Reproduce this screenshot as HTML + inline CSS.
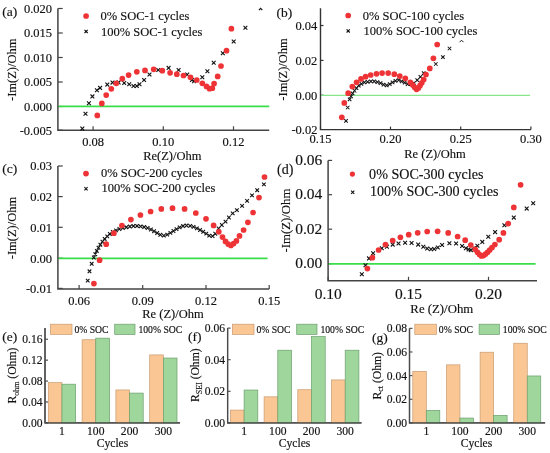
<!DOCTYPE html>
<html><head><meta charset="utf-8"><style>
html,body{margin:0;padding:0;background:#fff;width:550px;height:453px;overflow:hidden}
svg{display:block;will-change:transform}
text{font-family:"Liberation Serif", serif;stroke:#111;stroke-width:0.15px}
</style></head><body>
<svg width="550" height="453" viewBox="0 0 550 453">
<rect width="550" height="453" fill="#fff"/>
<path d="M57.90 8.50L57.90 130.30L269.20 130.30" stroke="#444" stroke-width="1.5" fill="none"/>
<line x1="57.90" y1="8.50" x2="62.70" y2="8.50" stroke="#444" stroke-width="1.2"/>
<text x="52.00" y="12.80" font-size="12.5" text-anchor="end" fill="#111" >0.020</text>
<line x1="57.90" y1="33.00" x2="62.70" y2="33.00" stroke="#444" stroke-width="1.2"/>
<text x="52.00" y="37.30" font-size="12.5" text-anchor="end" fill="#111" >0.015</text>
<line x1="57.90" y1="57.50" x2="62.70" y2="57.50" stroke="#444" stroke-width="1.2"/>
<text x="52.00" y="61.80" font-size="12.5" text-anchor="end" fill="#111" >0.010</text>
<line x1="57.90" y1="82.00" x2="62.70" y2="82.00" stroke="#444" stroke-width="1.2"/>
<text x="52.00" y="86.30" font-size="12.5" text-anchor="end" fill="#111" >0.005</text>
<line x1="57.90" y1="106.50" x2="62.70" y2="106.50" stroke="#444" stroke-width="1.2"/>
<text x="52.00" y="110.80" font-size="12.5" text-anchor="end" fill="#111" >0.000</text>
<line x1="57.90" y1="130.20" x2="62.70" y2="130.20" stroke="#444" stroke-width="1.2"/>
<text x="52.00" y="134.50" font-size="12.5" text-anchor="end" fill="#111" >-0.005</text>
<line x1="93.10" y1="130.30" x2="93.10" y2="126.30" stroke="#444" stroke-width="1.2"/>
<text x="93.10" y="146.00" font-size="12.5" text-anchor="middle" fill="#111" >0.08</text>
<line x1="163.30" y1="130.30" x2="163.30" y2="126.30" stroke="#444" stroke-width="1.2"/>
<text x="163.30" y="146.00" font-size="12.5" text-anchor="middle" fill="#111" >0.10</text>
<line x1="233.50" y1="130.30" x2="233.50" y2="126.30" stroke="#444" stroke-width="1.2"/>
<text x="233.50" y="146.00" font-size="12.5" text-anchor="middle" fill="#111" >0.12</text>
<text x="172.30" y="160.30" font-size="12.5" text-anchor="middle" fill="#111" >Re(Z)/Ohm</text>
<text x="0" y="0" font-size="12.5" text-anchor="middle" fill="#111" transform="translate(15.50,69.80) rotate(-90)">-Im(Z)/Ohm</text>
<text x="2.30" y="16.30" font-size="13.5" text-anchor="start" fill="#111" >(a)</text>
<line x1="58.70" y1="106.40" x2="269.20" y2="106.40" stroke="#3ade4a" stroke-width="1.8"/>
<circle cx="86.10" cy="16.00" r="2.85" fill="#ee3336"/>
<path d="M84.50 29.80L87.70 33.00M87.70 29.80L84.50 33.00" stroke="#111" stroke-width="1.1" fill="none"/>
<text x="100.50" y="20.20" font-size="12.5" text-anchor="start" fill="#111" >0% SOC-1 cycles</text>
<text x="101.00" y="35.60" font-size="12.5" text-anchor="start" fill="#111" >100% SOC-1 cycles</text>
<path d="M80.40 126.70L84.20 130.50M84.20 126.70L80.40 130.50" stroke="#111" stroke-width="1.1" fill="none"/>
<path d="M83.60 111.80L87.40 115.60M87.40 111.80L83.60 115.60" stroke="#111" stroke-width="1.1" fill="none"/>
<path d="M87.00 101.40L90.80 105.20M90.80 101.40L87.00 105.20" stroke="#111" stroke-width="1.1" fill="none"/>
<path d="M90.50 94.50L94.30 98.30M94.30 94.50L90.50 98.30" stroke="#111" stroke-width="1.1" fill="none"/>
<path d="M95.00 88.40L98.80 92.20M98.80 88.40L95.00 92.20" stroke="#111" stroke-width="1.1" fill="none"/>
<path d="M98.20 86.00L102.00 89.80M102.00 86.00L98.20 89.80" stroke="#111" stroke-width="1.1" fill="none"/>
<path d="M105.40 82.70L109.20 86.50M109.20 82.70L105.40 86.50" stroke="#111" stroke-width="1.1" fill="none"/>
<path d="M110.60 80.70L114.40 84.50M114.40 80.70L110.60 84.50" stroke="#111" stroke-width="1.1" fill="none"/>
<path d="M116.70 80.50L120.50 84.30M120.50 80.50L116.70 84.30" stroke="#111" stroke-width="1.1" fill="none"/>
<path d="M122.30 81.10L126.10 84.90M126.10 81.10L122.30 84.90" stroke="#111" stroke-width="1.1" fill="none"/>
<path d="M127.30 82.30L131.10 86.10M131.10 82.30L127.30 86.10" stroke="#111" stroke-width="1.1" fill="none"/>
<path d="M131.60 84.10L135.40 87.90M135.40 84.10L131.60 87.90" stroke="#111" stroke-width="1.1" fill="none"/>
<path d="M134.90 84.10L138.70 87.90M138.70 84.10L134.90 87.90" stroke="#111" stroke-width="1.1" fill="none"/>
<path d="M137.60 82.30L141.40 86.10M141.40 82.30L137.60 86.10" stroke="#111" stroke-width="1.1" fill="none"/>
<path d="M142.20 78.10L146.00 81.90M146.00 78.10L142.20 81.90" stroke="#111" stroke-width="1.1" fill="none"/>
<path d="M147.60 72.60L151.40 76.40M151.40 72.60L147.60 76.40" stroke="#111" stroke-width="1.1" fill="none"/>
<path d="M156.40 68.10L160.20 71.90M160.20 68.10L156.40 71.90" stroke="#111" stroke-width="1.1" fill="none"/>
<path d="M166.70 66.00L170.50 69.80M170.50 66.00L166.70 69.80" stroke="#111" stroke-width="1.1" fill="none"/>
<path d="M176.70 68.10L180.50 71.90M180.50 68.10L176.70 71.90" stroke="#111" stroke-width="1.1" fill="none"/>
<path d="M185.30 72.60L189.10 76.40M189.10 72.60L185.30 76.40" stroke="#111" stroke-width="1.1" fill="none"/>
<path d="M190.00 78.10L193.80 81.90M193.80 78.10L190.00 81.90" stroke="#111" stroke-width="1.1" fill="none"/>
<path d="M192.20 79.40L196.00 83.20M196.00 79.40L192.20 83.20" stroke="#111" stroke-width="1.1" fill="none"/>
<path d="M200.40 75.40L204.20 79.20M204.20 75.40L200.40 79.20" stroke="#111" stroke-width="1.1" fill="none"/>
<path d="M205.50 69.40L209.30 73.20M209.30 69.40L205.50 73.20" stroke="#111" stroke-width="1.1" fill="none"/>
<path d="M211.80 60.80L215.60 64.60M215.60 60.80L211.80 64.60" stroke="#111" stroke-width="1.1" fill="none"/>
<path d="M220.90 51.40L224.70 55.20M224.70 51.40L220.90 55.20" stroke="#111" stroke-width="1.1" fill="none"/>
<path d="M231.80 39.60L235.60 43.40M235.60 39.60L231.80 43.40" stroke="#111" stroke-width="1.1" fill="none"/>
<path d="M243.50 25.90L247.30 29.70M247.30 25.90L243.50 29.70" stroke="#111" stroke-width="1.1" fill="none"/>
<circle cx="97.30" cy="115.40" r="2.85" fill="#ee3336"/>
<circle cx="101.80" cy="103.40" r="2.85" fill="#ee3336"/>
<circle cx="106.20" cy="95.10" r="2.85" fill="#ee3336"/>
<circle cx="111.30" cy="88.80" r="2.85" fill="#ee3336"/>
<circle cx="116.30" cy="83.30" r="2.85" fill="#ee3336"/>
<circle cx="122.30" cy="78.70" r="2.85" fill="#ee3336"/>
<circle cx="128.60" cy="75.10" r="2.85" fill="#ee3336"/>
<circle cx="136.80" cy="71.80" r="2.85" fill="#ee3336"/>
<circle cx="145.00" cy="70.40" r="2.85" fill="#ee3336"/>
<circle cx="153.70" cy="69.30" r="2.85" fill="#ee3336"/>
<circle cx="162.30" cy="70.70" r="2.85" fill="#ee3336"/>
<circle cx="170.10" cy="72.80" r="2.85" fill="#ee3336"/>
<circle cx="176.80" cy="74.20" r="2.85" fill="#ee3336"/>
<circle cx="183.50" cy="75.50" r="2.85" fill="#ee3336"/>
<circle cx="190.50" cy="77.30" r="2.85" fill="#ee3336"/>
<circle cx="196.80" cy="80.00" r="2.85" fill="#ee3336"/>
<circle cx="202.30" cy="83.30" r="2.85" fill="#ee3336"/>
<circle cx="206.50" cy="86.40" r="2.85" fill="#ee3336"/>
<circle cx="209.50" cy="88.70" r="2.85" fill="#ee3336"/>
<circle cx="212.30" cy="88.20" r="2.85" fill="#ee3336"/>
<circle cx="214.10" cy="83.60" r="2.85" fill="#ee3336"/>
<circle cx="217.70" cy="76.40" r="2.85" fill="#ee3336"/>
<circle cx="221.00" cy="66.00" r="2.85" fill="#ee3336"/>
<circle cx="226.50" cy="50.70" r="2.85" fill="#ee3336"/>
<circle cx="231.40" cy="28.70" r="2.85" fill="#ee3336"/>
<path d="M258.90 10.10L260.60 8.40L262.30 10.10" stroke="#111" stroke-width="1.2" fill="none"/>
<path d="M320.50 8.20L320.50 129.60L530.90 129.60" stroke="#333" stroke-width="1.4" fill="none"/>
<line x1="320.50" y1="25.50" x2="323.50" y2="25.50" stroke="#333" stroke-width="1.2"/>
<text x="317.30" y="29.80" font-size="12.5" text-anchor="end" fill="#111" >0.04</text>
<line x1="320.50" y1="60.40" x2="323.50" y2="60.40" stroke="#333" stroke-width="1.2"/>
<text x="317.30" y="64.70" font-size="12.5" text-anchor="end" fill="#111" >0.02</text>
<line x1="320.50" y1="95.20" x2="323.50" y2="95.20" stroke="#333" stroke-width="1.2"/>
<text x="317.30" y="99.50" font-size="12.5" text-anchor="end" fill="#111" >0.00</text>
<text x="317.50" y="134.20" font-size="12.5" text-anchor="end" fill="#111" >-0.02</text>
<line x1="320.50" y1="129.60" x2="320.50" y2="126.60" stroke="#333" stroke-width="1.2"/>
<text x="320.50" y="143.20" font-size="12.5" text-anchor="middle" fill="#111" >0.15</text>
<line x1="390.50" y1="129.60" x2="390.50" y2="126.60" stroke="#333" stroke-width="1.2"/>
<text x="390.50" y="143.20" font-size="12.5" text-anchor="middle" fill="#111" >0.20</text>
<line x1="460.70" y1="129.60" x2="460.70" y2="126.60" stroke="#333" stroke-width="1.2"/>
<text x="460.70" y="143.20" font-size="12.5" text-anchor="middle" fill="#111" >0.25</text>
<line x1="530.90" y1="129.60" x2="530.90" y2="126.60" stroke="#333" stroke-width="1.2"/>
<text x="530.90" y="143.20" font-size="12.5" text-anchor="middle" fill="#111" >0.30</text>
<text x="435.00" y="158.40" font-size="12.5" text-anchor="middle" fill="#111" >Re (Z)/Ohm</text>
<text x="0" y="0" font-size="12.5" text-anchor="middle" fill="#111" transform="translate(287.20,69.40) rotate(-90)">-Im(Z)/Ohm</text>
<text x="276.50" y="17.00" font-size="13.5" text-anchor="start" fill="#111" >(b)</text>
<line x1="321.20" y1="95.40" x2="530.00" y2="95.40" stroke="#86e68a" stroke-width="1.3"/>
<circle cx="348.20" cy="15.50" r="2.85" fill="#ee3336"/>
<path d="M346.60 29.30L349.80 32.50M349.80 29.30L346.60 32.50" stroke="#111" stroke-width="1.1" fill="none"/>
<text x="362.70" y="19.60" font-size="12.5" text-anchor="start" fill="#111" >0% SOC-100 cycles</text>
<text x="363.60" y="34.90" font-size="12.5" text-anchor="start" fill="#111" >100% SOC-100 cycles</text>
<path d="M344.25 119.15L347.75 122.65M347.75 119.15L344.25 122.65" stroke="#111" stroke-width="1.05" fill="none"/>
<path d="M345.95 105.75L349.45 109.25M349.45 105.75L345.95 109.25" stroke="#111" stroke-width="1.05" fill="none"/>
<path d="M347.85 97.55L351.35 101.05M351.35 97.55L347.85 101.05" stroke="#111" stroke-width="1.05" fill="none"/>
<path d="M349.26 94.56L352.76 98.06M352.76 94.56L349.26 98.06" stroke="#111" stroke-width="1.05" fill="none"/>
<path d="M350.83 91.67L354.33 95.17M354.33 91.67L350.83 95.17" stroke="#111" stroke-width="1.05" fill="none"/>
<path d="M352.77 89.00L356.27 92.50M356.27 89.00L352.77 92.50" stroke="#111" stroke-width="1.05" fill="none"/>
<path d="M354.73 86.34L358.23 89.84M358.23 86.34L354.73 89.84" stroke="#111" stroke-width="1.05" fill="none"/>
<path d="M356.99 83.94L360.49 87.44M360.49 83.94L356.99 87.44" stroke="#111" stroke-width="1.05" fill="none"/>
<path d="M359.67 82.02L363.17 85.52M363.17 82.02L359.67 85.52" stroke="#111" stroke-width="1.05" fill="none"/>
<path d="M362.64 80.62L366.14 84.12M366.14 80.62L362.64 84.12" stroke="#111" stroke-width="1.05" fill="none"/>
<path d="M365.88 80.01L369.38 83.51M369.38 80.01L365.88 83.51" stroke="#111" stroke-width="1.05" fill="none"/>
<path d="M369.16 79.61L372.66 83.11M372.66 79.61L369.16 83.11" stroke="#111" stroke-width="1.05" fill="none"/>
<path d="M372.45 79.65L375.95 83.15M375.95 79.65L372.45 83.15" stroke="#111" stroke-width="1.05" fill="none"/>
<path d="M375.68 80.30L379.18 83.80M379.18 80.30L375.68 83.80" stroke="#111" stroke-width="1.05" fill="none"/>
<path d="M378.78 81.43L382.28 84.93M382.28 81.43L378.78 84.93" stroke="#111" stroke-width="1.05" fill="none"/>
<path d="M381.80 82.76L385.30 86.26M385.30 82.76L381.80 86.26" stroke="#111" stroke-width="1.05" fill="none"/>
<path d="M384.93 83.63L388.43 87.13M388.43 83.63L384.93 87.13" stroke="#111" stroke-width="1.05" fill="none"/>
<path d="M387.99 82.43L391.49 85.93M391.49 82.43L387.99 85.93" stroke="#111" stroke-width="1.05" fill="none"/>
<path d="M390.80 80.70L394.30 84.20M394.30 80.70L390.80 84.20" stroke="#111" stroke-width="1.05" fill="none"/>
<path d="M393.71 79.17L397.21 82.67M397.21 79.17L393.71 82.67" stroke="#111" stroke-width="1.05" fill="none"/>
<path d="M396.92 78.46L400.42 81.96M400.42 78.46L396.92 81.96" stroke="#111" stroke-width="1.05" fill="none"/>
<path d="M399.90 79.59L403.40 83.09M403.40 79.59L399.90 83.09" stroke="#111" stroke-width="1.05" fill="none"/>
<path d="M402.91 80.92L406.41 84.42M406.41 80.92L402.91 84.42" stroke="#111" stroke-width="1.05" fill="none"/>
<path d="M405.84 82.42L409.34 85.92M409.34 82.42L405.84 85.92" stroke="#111" stroke-width="1.05" fill="none"/>
<path d="M409.04 82.46L412.54 85.96M412.54 82.46L409.04 85.96" stroke="#111" stroke-width="1.05" fill="none"/>
<path d="M412.15 81.36L415.65 84.86M415.65 81.36L412.15 84.86" stroke="#111" stroke-width="1.05" fill="none"/>
<path d="M415.45 78.45L418.95 81.95M418.95 78.45L415.45 81.95" stroke="#111" stroke-width="1.05" fill="none"/>
<path d="M418.65 75.15L422.15 78.65M422.15 75.15L418.65 78.65" stroke="#111" stroke-width="1.05" fill="none"/>
<path d="M421.95 71.35L425.45 74.85M425.45 71.35L421.95 74.85" stroke="#111" stroke-width="1.05" fill="none"/>
<path d="M434.05 62.25L437.55 65.75M437.55 62.25L434.05 65.75" stroke="#111" stroke-width="1.05" fill="none"/>
<path d="M441.15 55.45L444.65 58.95M444.65 55.45L441.15 58.95" stroke="#111" stroke-width="1.05" fill="none"/>
<path d="M447.75 46.75L451.25 50.25M451.25 46.75L447.75 50.25" stroke="#111" stroke-width="1.05" fill="none"/>
<circle cx="341.80" cy="117.30" r="2.85" fill="#ee3336"/>
<circle cx="344.30" cy="102.90" r="2.85" fill="#ee3336"/>
<circle cx="348.20" cy="93.20" r="2.85" fill="#ee3336"/>
<circle cx="352.30" cy="86.60" r="2.85" fill="#ee3336"/>
<circle cx="356.60" cy="82.30" r="2.85" fill="#ee3336"/>
<circle cx="361.00" cy="78.90" r="2.85" fill="#ee3336"/>
<circle cx="365.60" cy="76.70" r="2.85" fill="#ee3336"/>
<circle cx="370.70" cy="75.00" r="2.85" fill="#ee3336"/>
<circle cx="376.50" cy="73.80" r="2.85" fill="#ee3336"/>
<circle cx="382.10" cy="73.10" r="2.85" fill="#ee3336"/>
<circle cx="388.20" cy="73.10" r="2.85" fill="#ee3336"/>
<circle cx="394.30" cy="74.20" r="2.85" fill="#ee3336"/>
<circle cx="399.80" cy="76.10" r="2.85" fill="#ee3336"/>
<circle cx="405.30" cy="78.30" r="2.85" fill="#ee3336"/>
<circle cx="410.30" cy="82.30" r="2.85" fill="#ee3336"/>
<circle cx="412.80" cy="85.00" r="2.85" fill="#ee3336"/>
<circle cx="414.80" cy="87.60" r="2.85" fill="#ee3336"/>
<circle cx="416.60" cy="89.30" r="2.85" fill="#ee3336"/>
<circle cx="418.40" cy="87.90" r="2.85" fill="#ee3336"/>
<circle cx="420.10" cy="85.40" r="2.85" fill="#ee3336"/>
<circle cx="421.80" cy="82.80" r="2.85" fill="#ee3336"/>
<circle cx="423.70" cy="79.60" r="2.85" fill="#ee3336"/>
<circle cx="426.00" cy="74.50" r="2.85" fill="#ee3336"/>
<circle cx="429.80" cy="68.40" r="2.85" fill="#ee3336"/>
<circle cx="433.40" cy="58.30" r="2.85" fill="#ee3336"/>
<circle cx="437.20" cy="44.50" r="2.85" fill="#ee3336"/>
<path d="M459.50 42.20L461.50 40.20L463.50 42.20" stroke="#111" stroke-width="0.95" fill="none"/>
<path d="M57.90 166.00L57.90 288.90L269.20 288.90" stroke="#444" stroke-width="1.5" fill="none"/>
<line x1="57.90" y1="166.00" x2="62.70" y2="166.00" stroke="#444" stroke-width="1.2"/>
<text x="52.00" y="170.30" font-size="12.5" text-anchor="end" fill="#111" >0.03</text>
<line x1="57.90" y1="196.60" x2="62.70" y2="196.60" stroke="#444" stroke-width="1.2"/>
<text x="52.00" y="200.90" font-size="12.5" text-anchor="end" fill="#111" >0.02</text>
<line x1="57.90" y1="227.30" x2="62.70" y2="227.30" stroke="#444" stroke-width="1.2"/>
<text x="52.00" y="231.60" font-size="12.5" text-anchor="end" fill="#111" >0.01</text>
<line x1="57.90" y1="258.20" x2="62.70" y2="258.20" stroke="#444" stroke-width="1.2"/>
<text x="52.00" y="262.50" font-size="12.5" text-anchor="end" fill="#111" >0.00</text>
<line x1="57.90" y1="288.40" x2="62.70" y2="288.40" stroke="#444" stroke-width="1.2"/>
<text x="52.00" y="292.70" font-size="12.5" text-anchor="end" fill="#111" >-0.01</text>
<line x1="79.10" y1="288.90" x2="79.10" y2="284.90" stroke="#444" stroke-width="1.2"/>
<text x="79.10" y="305.00" font-size="12.5" text-anchor="middle" fill="#111" >0.06</text>
<line x1="142.70" y1="288.90" x2="142.70" y2="284.90" stroke="#444" stroke-width="1.2"/>
<text x="142.70" y="305.00" font-size="12.5" text-anchor="middle" fill="#111" >0.09</text>
<line x1="206.00" y1="288.90" x2="206.00" y2="284.90" stroke="#444" stroke-width="1.2"/>
<text x="206.00" y="305.00" font-size="12.5" text-anchor="middle" fill="#111" >0.12</text>
<line x1="269.20" y1="288.90" x2="269.20" y2="284.90" stroke="#444" stroke-width="1.2"/>
<text x="269.20" y="305.00" font-size="12.5" text-anchor="middle" fill="#111" >0.15</text>
<text x="173.00" y="318.20" font-size="12.5" text-anchor="middle" fill="#111" >Re (Z)/Ohm</text>
<text x="0" y="0" font-size="12.5" text-anchor="middle" fill="#111" transform="translate(15.50,228.00) rotate(-90)">-Im(Z)/Ohm</text>
<text x="2.30" y="173.20" font-size="13.5" text-anchor="start" fill="#111" >(c)</text>
<line x1="58.70" y1="258.30" x2="267.60" y2="258.30" stroke="#3ade4a" stroke-width="1.8"/>
<circle cx="86.00" cy="173.60" r="2.85" fill="#ee3336"/>
<path d="M84.40 187.10L87.60 190.30M87.60 187.10L84.40 190.30" stroke="#111" stroke-width="1.1" fill="none"/>
<text x="100.90" y="176.90" font-size="12.5" text-anchor="start" fill="#111" >0% SOC-200 cycles</text>
<text x="101.50" y="192.20" font-size="12.5" text-anchor="start" fill="#111" >100% SOC-200 cycles</text>
<path d="M85.90 278.80L89.50 282.40M89.50 278.80L85.90 282.40" stroke="#111" stroke-width="1.1" fill="none"/>
<path d="M87.70 269.50L91.30 273.10M91.30 269.50L87.70 273.10" stroke="#111" stroke-width="1.1" fill="none"/>
<path d="M89.90 262.00L93.50 265.60M93.50 262.00L89.90 265.60" stroke="#111" stroke-width="1.1" fill="none"/>
<path d="M92.00 255.70L95.60 259.30M95.60 255.70L92.00 259.30" stroke="#111" stroke-width="1.1" fill="none"/>
<path d="M93.46 252.41L97.06 256.01M97.06 252.41L93.46 256.01" stroke="#111" stroke-width="1.1" fill="none"/>
<path d="M95.00 249.16L98.60 252.76M98.60 249.16L95.00 252.76" stroke="#111" stroke-width="1.1" fill="none"/>
<path d="M96.69 245.98L100.29 249.58M100.29 245.98L96.69 249.58" stroke="#111" stroke-width="1.1" fill="none"/>
<path d="M98.56 242.90L102.16 246.50M102.16 242.90L98.56 246.50" stroke="#111" stroke-width="1.1" fill="none"/>
<path d="M100.62 239.95L104.22 243.55M104.22 239.95L100.62 243.55" stroke="#111" stroke-width="1.1" fill="none"/>
<path d="M102.89 237.15L106.49 240.75M106.49 237.15L102.89 240.75" stroke="#111" stroke-width="1.1" fill="none"/>
<path d="M105.44 234.61L109.04 238.21M109.04 234.61L105.44 238.21" stroke="#111" stroke-width="1.1" fill="none"/>
<path d="M108.06 232.15L111.66 235.75M111.66 232.15L108.06 235.75" stroke="#111" stroke-width="1.1" fill="none"/>
<path d="M110.96 230.04L114.56 233.64M114.56 230.04L110.96 233.64" stroke="#111" stroke-width="1.1" fill="none"/>
<path d="M114.25 228.57L117.85 232.17M117.85 228.57L114.25 232.17" stroke="#111" stroke-width="1.1" fill="none"/>
<path d="M117.57 227.19L121.17 230.79M121.17 227.19L117.57 230.79" stroke="#111" stroke-width="1.1" fill="none"/>
<path d="M121.02 226.16L124.62 229.76M124.62 226.16L121.02 229.76" stroke="#111" stroke-width="1.1" fill="none"/>
<path d="M124.54 225.40L128.14 229.00M128.14 225.40L124.54 229.00" stroke="#111" stroke-width="1.1" fill="none"/>
<path d="M128.08 224.76L131.68 228.36M131.68 224.76L128.08 228.36" stroke="#111" stroke-width="1.1" fill="none"/>
<path d="M131.64 224.25L135.24 227.85M135.24 224.25L131.64 227.85" stroke="#111" stroke-width="1.1" fill="none"/>
<path d="M135.24 224.14L138.84 227.74M138.84 224.14L135.24 227.74" stroke="#111" stroke-width="1.1" fill="none"/>
<path d="M138.81 224.59L142.41 228.19M142.41 224.59L138.81 228.19" stroke="#111" stroke-width="1.1" fill="none"/>
<path d="M142.35 225.24L145.95 228.84M145.95 225.24L142.35 228.84" stroke="#111" stroke-width="1.1" fill="none"/>
<path d="M145.81 226.22L149.41 229.82M149.41 226.22L145.81 229.82" stroke="#111" stroke-width="1.1" fill="none"/>
<path d="M149.07 227.73L152.67 231.33M152.67 227.73L149.07 231.33" stroke="#111" stroke-width="1.1" fill="none"/>
<path d="M152.23 229.46L155.83 233.06M155.83 229.46L152.23 233.06" stroke="#111" stroke-width="1.1" fill="none"/>
<path d="M155.37 231.23L158.97 234.83M158.97 231.23L155.37 234.83" stroke="#111" stroke-width="1.1" fill="none"/>
<path d="M158.54 232.93L162.14 236.53M162.14 232.93L158.54 236.53" stroke="#111" stroke-width="1.1" fill="none"/>
<path d="M162.00 233.80L165.60 237.40M165.60 233.80L162.00 237.40" stroke="#111" stroke-width="1.1" fill="none"/>
<path d="M165.43 232.79L169.03 236.39M169.03 232.79L165.43 236.39" stroke="#111" stroke-width="1.1" fill="none"/>
<path d="M168.59 231.06L172.19 234.66M172.19 231.06L168.59 234.66" stroke="#111" stroke-width="1.1" fill="none"/>
<path d="M171.66 229.18L175.26 232.78M175.26 229.18L171.66 232.78" stroke="#111" stroke-width="1.1" fill="none"/>
<path d="M174.72 227.28L178.32 230.88M178.32 227.28L174.72 230.88" stroke="#111" stroke-width="1.1" fill="none"/>
<path d="M177.86 225.54L181.46 229.14M181.46 225.54L177.86 229.14" stroke="#111" stroke-width="1.1" fill="none"/>
<path d="M181.22 224.24L184.82 227.84M184.82 224.24L181.22 227.84" stroke="#111" stroke-width="1.1" fill="none"/>
<path d="M184.77 223.70L188.37 227.30M188.37 223.70L184.77 227.30" stroke="#111" stroke-width="1.1" fill="none"/>
<path d="M188.34 224.03L191.94 227.63M191.94 224.03L188.34 227.63" stroke="#111" stroke-width="1.1" fill="none"/>
<path d="M191.77 225.10L195.37 228.70M195.37 225.10L191.77 228.70" stroke="#111" stroke-width="1.1" fill="none"/>
<path d="M195.05 226.59L198.65 230.19M198.65 226.59L195.05 230.19" stroke="#111" stroke-width="1.1" fill="none"/>
<path d="M198.27 228.19L201.87 231.79M201.87 228.19L198.27 231.79" stroke="#111" stroke-width="1.1" fill="none"/>
<path d="M201.43 229.92L205.03 233.52M205.03 229.92L201.43 233.52" stroke="#111" stroke-width="1.1" fill="none"/>
<path d="M204.47 231.85L208.07 235.45M208.07 231.85L204.47 235.45" stroke="#111" stroke-width="1.1" fill="none"/>
<path d="M207.45 233.86L211.05 237.46M211.05 233.86L207.45 237.46" stroke="#111" stroke-width="1.1" fill="none"/>
<path d="M210.79 234.36L214.39 237.96M214.39 234.36L210.79 237.96" stroke="#111" stroke-width="1.1" fill="none"/>
<path d="M213.47 231.97L217.07 235.57M217.07 231.97L213.47 235.57" stroke="#111" stroke-width="1.1" fill="none"/>
<path d="M216.80 226.70L220.40 230.30M220.40 226.70L216.80 230.30" stroke="#111" stroke-width="1.1" fill="none"/>
<path d="M220.00 223.20L223.60 226.80M223.60 223.20L220.00 226.80" stroke="#111" stroke-width="1.1" fill="none"/>
<path d="M223.70 219.80L227.30 223.40M227.30 219.80L223.70 223.40" stroke="#111" stroke-width="1.1" fill="none"/>
<path d="M227.10 215.70L230.70 219.30M230.70 215.70L227.10 219.30" stroke="#111" stroke-width="1.1" fill="none"/>
<path d="M230.90 211.60L234.50 215.20M234.50 211.60L230.90 215.20" stroke="#111" stroke-width="1.1" fill="none"/>
<path d="M235.10 208.30L238.70 211.90M238.70 208.30L235.10 211.90" stroke="#111" stroke-width="1.1" fill="none"/>
<path d="M240.30 204.10L243.90 207.70M243.90 204.10L240.30 207.70" stroke="#111" stroke-width="1.1" fill="none"/>
<path d="M245.30 199.10L248.90 202.70M248.90 199.10L245.30 202.70" stroke="#111" stroke-width="1.1" fill="none"/>
<path d="M250.20 193.60L253.80 197.20M253.80 193.60L250.20 197.20" stroke="#111" stroke-width="1.1" fill="none"/>
<path d="M255.40 188.40L259.00 192.00M259.00 188.40L255.40 192.00" stroke="#111" stroke-width="1.1" fill="none"/>
<path d="M262.10 182.60L265.70 186.20M265.70 182.60L262.10 186.20" stroke="#111" stroke-width="1.1" fill="none"/>
<circle cx="93.90" cy="283.60" r="2.85" fill="#ee3336"/>
<circle cx="99.60" cy="260.20" r="2.85" fill="#ee3336"/>
<circle cx="106.20" cy="244.20" r="2.85" fill="#ee3336"/>
<circle cx="113.90" cy="233.20" r="2.85" fill="#ee3336"/>
<circle cx="121.90" cy="225.50" r="2.85" fill="#ee3336"/>
<circle cx="130.90" cy="219.60" r="2.85" fill="#ee3336"/>
<circle cx="140.40" cy="215.00" r="2.85" fill="#ee3336"/>
<circle cx="150.60" cy="211.50" r="2.85" fill="#ee3336"/>
<circle cx="161.30" cy="208.90" r="2.85" fill="#ee3336"/>
<circle cx="172.50" cy="208.20" r="2.85" fill="#ee3336"/>
<circle cx="184.60" cy="208.90" r="2.85" fill="#ee3336"/>
<circle cx="195.80" cy="213.00" r="2.85" fill="#ee3336"/>
<circle cx="206.00" cy="218.80" r="2.85" fill="#ee3336"/>
<circle cx="213.60" cy="225.40" r="2.85" fill="#ee3336"/>
<circle cx="218.80" cy="231.80" r="2.85" fill="#ee3336"/>
<circle cx="222.50" cy="237.10" r="2.85" fill="#ee3336"/>
<circle cx="225.50" cy="241.40" r="2.85" fill="#ee3336"/>
<circle cx="228.20" cy="244.10" r="2.85" fill="#ee3336"/>
<circle cx="230.90" cy="245.50" r="2.85" fill="#ee3336"/>
<circle cx="233.60" cy="243.60" r="2.85" fill="#ee3336"/>
<circle cx="236.40" cy="240.90" r="2.85" fill="#ee3336"/>
<circle cx="239.50" cy="235.90" r="2.85" fill="#ee3336"/>
<circle cx="243.60" cy="230.00" r="2.85" fill="#ee3336"/>
<circle cx="247.90" cy="222.30" r="2.85" fill="#ee3336"/>
<circle cx="253.10" cy="212.50" r="2.85" fill="#ee3336"/>
<circle cx="259.00" cy="197.60" r="2.85" fill="#ee3336"/>
<circle cx="264.50" cy="177.00" r="2.85" fill="#ee3336"/>
<path d="M328.10 160.40L328.10 280.80L537.00 280.80" stroke="#444" stroke-width="1.5" fill="none"/>
<line x1="328.10" y1="160.40" x2="332.10" y2="160.40" stroke="#444" stroke-width="1.2"/>
<text x="322.30" y="164.90" font-size="15.5" text-anchor="end" fill="#111" >0.06</text>
<line x1="328.10" y1="194.70" x2="332.10" y2="194.70" stroke="#444" stroke-width="1.2"/>
<text x="322.30" y="199.20" font-size="15.5" text-anchor="end" fill="#111" >0.04</text>
<line x1="328.10" y1="229.20" x2="332.10" y2="229.20" stroke="#444" stroke-width="1.2"/>
<text x="322.30" y="234.00" font-size="15.5" text-anchor="end" fill="#111" >0.02</text>
<line x1="328.10" y1="263.70" x2="332.10" y2="263.70" stroke="#444" stroke-width="1.2"/>
<text x="322.30" y="268.40" font-size="15.5" text-anchor="end" fill="#111" >0.00</text>
<line x1="328.20" y1="280.80" x2="328.20" y2="276.80" stroke="#444" stroke-width="1.2"/>
<text x="328.20" y="298.60" font-size="15.5" text-anchor="middle" fill="#111" >0.10</text>
<line x1="408.50" y1="280.80" x2="408.50" y2="276.80" stroke="#444" stroke-width="1.2"/>
<text x="408.50" y="298.60" font-size="15.5" text-anchor="middle" fill="#111" >0.15</text>
<line x1="488.50" y1="280.80" x2="488.50" y2="276.80" stroke="#444" stroke-width="1.2"/>
<text x="488.50" y="298.60" font-size="15.5" text-anchor="middle" fill="#111" >0.20</text>
<text x="441.80" y="313.00" font-size="12.8" text-anchor="middle" fill="#111" >Re (Z)/Ohm</text>
<text x="0" y="0" font-size="12.8" text-anchor="middle" fill="#111" transform="translate(290.00,220.60) rotate(-90)">-Im(Z)/Ohm</text>
<text x="277.00" y="173.50" font-size="14" text-anchor="start" fill="#111" >(d)</text>
<line x1="328.90" y1="263.90" x2="535.60" y2="263.90" stroke="#3ade4a" stroke-width="1.8"/>
<circle cx="352.40" cy="174.10" r="2.6" fill="#ee3336"/>
<path d="M351.10 190.60L354.30 193.80M354.30 190.60L351.10 193.80" stroke="#111" stroke-width="1.1" fill="none"/>
<text x="369.10" y="179.20" font-size="14.1" text-anchor="start" fill="#111" >0% SOC-300 cycles</text>
<text x="370.00" y="195.90" font-size="14.1" text-anchor="start" fill="#111" >100% SOC-300 cycles</text>
<path d="M359.90 272.30L363.70 276.10M363.70 272.30L359.90 276.10" stroke="#111" stroke-width="1.1" fill="none"/>
<path d="M363.60 263.30L367.40 267.10M367.40 263.30L363.60 267.10" stroke="#111" stroke-width="1.1" fill="none"/>
<path d="M367.10 256.50L370.90 260.30M370.90 256.50L367.10 260.30" stroke="#111" stroke-width="1.1" fill="none"/>
<path d="M371.20 251.40L375.00 255.20M375.00 251.40L371.20 255.20" stroke="#111" stroke-width="1.1" fill="none"/>
<path d="M379.90 246.40L383.70 250.20M383.70 246.40L379.90 250.20" stroke="#111" stroke-width="1.1" fill="none"/>
<path d="M385.00 244.80L388.80 248.60M388.80 244.80L385.00 248.60" stroke="#111" stroke-width="1.1" fill="none"/>
<path d="M390.80 242.70L394.60 246.50M394.60 242.70L390.80 246.50" stroke="#111" stroke-width="1.1" fill="none"/>
<path d="M396.60 241.60L400.40 245.40M400.40 241.60L396.60 245.40" stroke="#111" stroke-width="1.1" fill="none"/>
<path d="M403.20 240.80L407.00 244.60M407.00 240.80L403.20 244.60" stroke="#111" stroke-width="1.1" fill="none"/>
<path d="M409.70 241.10L413.50 244.90M413.50 241.10L409.70 244.90" stroke="#111" stroke-width="1.1" fill="none"/>
<path d="M416.30 242.70L420.10 246.50M420.10 242.70L416.30 246.50" stroke="#111" stroke-width="1.1" fill="none"/>
<path d="M421.40 244.80L425.20 248.60M425.20 244.80L421.40 248.60" stroke="#111" stroke-width="1.1" fill="none"/>
<path d="M425.30 246.60L429.10 250.40M429.10 246.60L425.30 250.40" stroke="#111" stroke-width="1.1" fill="none"/>
<path d="M429.10 247.40L432.90 251.20M432.90 247.40L429.10 251.20" stroke="#111" stroke-width="1.1" fill="none"/>
<path d="M432.30 247.10L436.10 250.90M436.10 247.10L432.30 250.90" stroke="#111" stroke-width="1.1" fill="none"/>
<path d="M435.90 245.60L439.70 249.40M439.70 245.60L435.90 249.40" stroke="#111" stroke-width="1.1" fill="none"/>
<path d="M440.20 243.10L444.00 246.90M444.00 243.10L440.20 246.90" stroke="#111" stroke-width="1.1" fill="none"/>
<path d="M447.50 241.40L451.30 245.20M451.30 241.40L447.50 245.20" stroke="#111" stroke-width="1.1" fill="none"/>
<path d="M454.20 241.60L458.00 245.40M458.00 241.60L454.20 245.40" stroke="#111" stroke-width="1.1" fill="none"/>
<path d="M460.20 244.10L464.00 247.90M464.00 244.10L460.20 247.90" stroke="#111" stroke-width="1.1" fill="none"/>
<path d="M464.00 246.30L467.80 250.10M467.80 246.30L464.00 250.10" stroke="#111" stroke-width="1.1" fill="none"/>
<path d="M466.70 247.60L470.50 251.40M470.50 247.60L466.70 251.40" stroke="#111" stroke-width="1.1" fill="none"/>
<path d="M468.90 248.20L472.70 252.00M472.70 248.20L468.90 252.00" stroke="#111" stroke-width="1.1" fill="none"/>
<path d="M472.10 246.10L475.90 249.90M475.90 246.10L472.10 249.90" stroke="#111" stroke-width="1.1" fill="none"/>
<path d="M475.50 243.80L479.30 247.60M479.30 243.80L475.50 247.60" stroke="#111" stroke-width="1.1" fill="none"/>
<path d="M480.40 240.00L484.20 243.80M484.20 240.00L480.40 243.80" stroke="#111" stroke-width="1.1" fill="none"/>
<path d="M486.40 234.90L490.20 238.70M490.20 234.90L486.40 238.70" stroke="#111" stroke-width="1.1" fill="none"/>
<path d="M493.20 230.20L497.00 234.00M497.00 230.20L493.20 234.00" stroke="#111" stroke-width="1.1" fill="none"/>
<path d="M502.50 223.30L506.30 227.10M506.30 223.30L502.50 227.10" stroke="#111" stroke-width="1.1" fill="none"/>
<path d="M511.90 215.70L515.70 219.50M515.70 215.70L511.90 219.50" stroke="#111" stroke-width="1.1" fill="none"/>
<path d="M524.80 206.70L528.60 210.50M528.60 206.70L524.80 210.50" stroke="#111" stroke-width="1.1" fill="none"/>
<path d="M531.30 201.30L535.10 205.10M535.10 201.30L531.30 205.10" stroke="#111" stroke-width="1.1" fill="none"/>
<circle cx="367.40" cy="268.60" r="2.85" fill="#ee3336"/>
<circle cx="372.40" cy="257.70" r="2.85" fill="#ee3336"/>
<circle cx="378.60" cy="250.00" r="2.85" fill="#ee3336"/>
<circle cx="385.50" cy="244.60" r="2.85" fill="#ee3336"/>
<circle cx="392.70" cy="240.50" r="2.85" fill="#ee3336"/>
<circle cx="400.40" cy="237.30" r="2.85" fill="#ee3336"/>
<circle cx="408.70" cy="234.70" r="2.85" fill="#ee3336"/>
<circle cx="417.70" cy="232.80" r="2.85" fill="#ee3336"/>
<circle cx="427.20" cy="231.50" r="2.85" fill="#ee3336"/>
<circle cx="437.60" cy="231.30" r="2.85" fill="#ee3336"/>
<circle cx="448.20" cy="232.90" r="2.85" fill="#ee3336"/>
<circle cx="457.60" cy="236.50" r="2.85" fill="#ee3336"/>
<circle cx="465.20" cy="240.20" r="2.85" fill="#ee3336"/>
<circle cx="470.80" cy="245.00" r="2.85" fill="#ee3336"/>
<circle cx="475.20" cy="249.30" r="2.85" fill="#ee3336"/>
<circle cx="477.50" cy="252.30" r="2.85" fill="#ee3336"/>
<circle cx="479.50" cy="254.50" r="2.85" fill="#ee3336"/>
<circle cx="481.50" cy="255.90" r="2.85" fill="#ee3336"/>
<circle cx="483.50" cy="255.50" r="2.85" fill="#ee3336"/>
<circle cx="485.50" cy="254.10" r="2.85" fill="#ee3336"/>
<circle cx="487.50" cy="252.30" r="2.85" fill="#ee3336"/>
<circle cx="489.70" cy="250.10" r="2.85" fill="#ee3336"/>
<circle cx="492.00" cy="247.60" r="2.85" fill="#ee3336"/>
<circle cx="494.90" cy="244.50" r="2.85" fill="#ee3336"/>
<circle cx="499.20" cy="239.70" r="2.85" fill="#ee3336"/>
<circle cx="503.40" cy="232.90" r="2.85" fill="#ee3336"/>
<circle cx="508.20" cy="223.60" r="2.85" fill="#ee3336"/>
<circle cx="513.80" cy="207.40" r="2.85" fill="#ee3336"/>
<circle cx="520.60" cy="184.80" r="2.85" fill="#ee3336"/>
<path d="M45.00 328.10L45.00 422.90L180.00 422.90" stroke="#4a4a4a" stroke-width="1.25" fill="none"/>
<line x1="45.00" y1="339.22" x2="48.00" y2="339.22" stroke="#444" stroke-width="1.1"/>
<text x="42.50" y="343.22" font-size="11.6" text-anchor="end" fill="#111" >0.16</text>
<line x1="45.00" y1="360.14" x2="48.00" y2="360.14" stroke="#444" stroke-width="1.1"/>
<text x="42.50" y="364.14" font-size="11.6" text-anchor="end" fill="#111" >0.12</text>
<line x1="45.00" y1="381.06" x2="48.00" y2="381.06" stroke="#444" stroke-width="1.1"/>
<text x="42.50" y="385.06" font-size="11.6" text-anchor="end" fill="#111" >0.08</text>
<line x1="45.00" y1="401.98" x2="48.00" y2="401.98" stroke="#444" stroke-width="1.1"/>
<text x="42.50" y="405.98" font-size="11.6" text-anchor="end" fill="#111" >0.04</text>
<line x1="45.00" y1="422.90" x2="48.00" y2="422.90" stroke="#444" stroke-width="1.1"/>
<text x="42.50" y="426.90" font-size="11.6" text-anchor="end" fill="#111" >0.00</text>
<rect x="48.30" y="382.63" width="13.65" height="40.27" fill="#fac794" stroke="#c99a70" stroke-width="0.7"/>
<rect x="61.95" y="384.20" width="13.65" height="38.70" fill="#9ed69c" stroke="#6a9e6c" stroke-width="0.7"/>
<text x="61.95" y="434.60" font-size="11.6" text-anchor="middle" fill="#111" >1</text>
<rect x="82.10" y="339.74" width="13.65" height="83.16" fill="#fac794" stroke="#c99a70" stroke-width="0.7"/>
<rect x="95.75" y="338.17" width="13.65" height="84.73" fill="#9ed69c" stroke="#6a9e6c" stroke-width="0.7"/>
<text x="95.75" y="434.60" font-size="11.6" text-anchor="middle" fill="#111" >100</text>
<rect x="115.90" y="389.95" width="13.65" height="32.95" fill="#fac794" stroke="#c99a70" stroke-width="0.7"/>
<rect x="129.55" y="393.09" width="13.65" height="29.81" fill="#9ed69c" stroke="#6a9e6c" stroke-width="0.7"/>
<text x="129.55" y="434.60" font-size="11.6" text-anchor="middle" fill="#111" >200</text>
<rect x="149.70" y="354.91" width="13.65" height="67.99" fill="#fac794" stroke="#c99a70" stroke-width="0.7"/>
<rect x="163.35" y="358.05" width="13.65" height="64.85" fill="#9ed69c" stroke="#6a9e6c" stroke-width="0.7"/>
<text x="163.35" y="434.60" font-size="11.6" text-anchor="middle" fill="#111" >300</text>
<path d="M45.00 328.10L45.00 422.90L180.00 422.90" stroke="#4a4a4a" stroke-width="1.25" fill="none"/>
<text x="112.50" y="447.00" font-size="11.6" text-anchor="middle" fill="#111" >Cycles</text>
<text x="0" y="0" font-size="11.6" fill="#111" transform="translate(16.00,403.50) rotate(-90)">R<tspan font-size="8" dy="2.5">ohm</tspan><tspan dy="-2.5"> (Ohm)</tspan></text>
<text x="2.30" y="341.30" font-size="13.5" text-anchor="start" fill="#111" >(e)</text>
<rect x="50.40" y="324.2" width="21.6" height="10.2" fill="#fac794" stroke="#c99a70" stroke-width="0.7"/>
<text x="74.40" y="332.60" font-size="9.7" text-anchor="start" fill="#111" >0% SOC</text>
<rect x="114.70" y="324.2" width="20.3" height="10.2" fill="#9ed69c" stroke="#6a9e6c" stroke-width="0.7"/>
<text x="138.40" y="332.60" font-size="9.7" text-anchor="start" fill="#111" >100% SOC</text>
<path d="M227.60 328.10L227.60 422.90L361.50 422.90" stroke="#4a4a4a" stroke-width="1.25" fill="none"/>
<line x1="227.60" y1="328.10" x2="230.60" y2="328.10" stroke="#444" stroke-width="1.1"/>
<text x="225.10" y="332.10" font-size="11.6" text-anchor="end" fill="#111" >0.06</text>
<line x1="227.60" y1="359.70" x2="230.60" y2="359.70" stroke="#444" stroke-width="1.1"/>
<text x="225.10" y="363.70" font-size="11.6" text-anchor="end" fill="#111" >0.04</text>
<line x1="227.60" y1="391.30" x2="230.60" y2="391.30" stroke="#444" stroke-width="1.1"/>
<text x="225.10" y="395.30" font-size="11.6" text-anchor="end" fill="#111" >0.02</text>
<line x1="227.60" y1="422.90" x2="230.60" y2="422.90" stroke="#444" stroke-width="1.1"/>
<text x="225.10" y="426.90" font-size="11.6" text-anchor="end" fill="#111" >0.00</text>
<rect x="230.40" y="410.10" width="13.70" height="12.80" fill="#fac794" stroke="#c99a70" stroke-width="0.7"/>
<rect x="244.10" y="390.04" width="13.70" height="32.86" fill="#9ed69c" stroke="#6a9e6c" stroke-width="0.7"/>
<text x="244.10" y="434.60" font-size="11.6" text-anchor="middle" fill="#111" >1</text>
<rect x="264.10" y="396.83" width="13.70" height="26.07" fill="#fac794" stroke="#c99a70" stroke-width="0.7"/>
<rect x="277.80" y="350.22" width="13.70" height="72.68" fill="#9ed69c" stroke="#6a9e6c" stroke-width="0.7"/>
<text x="277.80" y="434.60" font-size="11.6" text-anchor="middle" fill="#111" >100</text>
<rect x="297.80" y="389.72" width="13.70" height="33.18" fill="#fac794" stroke="#c99a70" stroke-width="0.7"/>
<rect x="311.50" y="336.63" width="13.70" height="86.27" fill="#9ed69c" stroke="#6a9e6c" stroke-width="0.7"/>
<text x="311.50" y="434.60" font-size="11.6" text-anchor="middle" fill="#111" >200</text>
<rect x="331.50" y="379.92" width="13.70" height="42.98" fill="#fac794" stroke="#c99a70" stroke-width="0.7"/>
<rect x="345.20" y="350.22" width="13.70" height="72.68" fill="#9ed69c" stroke="#6a9e6c" stroke-width="0.7"/>
<text x="345.20" y="434.60" font-size="11.6" text-anchor="middle" fill="#111" >300</text>
<path d="M227.60 328.10L227.60 422.90L361.50 422.90" stroke="#4a4a4a" stroke-width="1.25" fill="none"/>
<text x="294.60" y="447.00" font-size="11.6" text-anchor="middle" fill="#111" >Cycles</text>
<text x="0" y="0" font-size="11.6" fill="#111" transform="translate(199.00,402.00) rotate(-90)">R<tspan font-size="8" dy="2.5">SEI</tspan><tspan dy="-2.5"> (Ohm)</tspan></text>
<text x="188.00" y="341.30" font-size="13.5" text-anchor="start" fill="#111" >(f)</text>
<rect x="232.40" y="324.2" width="21.6" height="10.2" fill="#fac794" stroke="#c99a70" stroke-width="0.7"/>
<text x="256.40" y="332.60" font-size="9.7" text-anchor="start" fill="#111" >0% SOC</text>
<rect x="296.70" y="324.2" width="20.3" height="10.2" fill="#9ed69c" stroke="#6a9e6c" stroke-width="0.7"/>
<text x="320.40" y="332.60" font-size="9.7" text-anchor="start" fill="#111" >100% SOC</text>
<path d="M409.50 328.40L409.50 422.90L545.10 422.90" stroke="#4a4a4a" stroke-width="1.25" fill="none"/>
<line x1="409.50" y1="328.34" x2="412.50" y2="328.34" stroke="#444" stroke-width="1.1"/>
<text x="407.00" y="332.34" font-size="11.6" text-anchor="end" fill="#111" >0.08</text>
<line x1="409.50" y1="351.98" x2="412.50" y2="351.98" stroke="#444" stroke-width="1.1"/>
<text x="407.00" y="355.98" font-size="11.6" text-anchor="end" fill="#111" >0.06</text>
<line x1="409.50" y1="375.62" x2="412.50" y2="375.62" stroke="#444" stroke-width="1.1"/>
<text x="407.00" y="379.62" font-size="11.6" text-anchor="end" fill="#111" >0.04</text>
<line x1="409.50" y1="399.26" x2="412.50" y2="399.26" stroke="#444" stroke-width="1.1"/>
<text x="407.00" y="403.26" font-size="11.6" text-anchor="end" fill="#111" >0.02</text>
<line x1="409.50" y1="422.90" x2="412.50" y2="422.90" stroke="#444" stroke-width="1.1"/>
<text x="407.00" y="426.90" font-size="11.6" text-anchor="end" fill="#111" >0.00</text>
<rect x="412.80" y="371.36" width="13.50" height="51.54" fill="#fac794" stroke="#c99a70" stroke-width="0.7"/>
<rect x="426.30" y="410.49" width="13.50" height="12.41" fill="#9ed69c" stroke="#6a9e6c" stroke-width="0.7"/>
<text x="426.30" y="434.60" font-size="11.6" text-anchor="middle" fill="#111" >1</text>
<rect x="446.45" y="364.86" width="13.50" height="58.04" fill="#fac794" stroke="#c99a70" stroke-width="0.7"/>
<rect x="459.95" y="418.05" width="13.50" height="4.85" fill="#9ed69c" stroke="#6a9e6c" stroke-width="0.7"/>
<text x="459.95" y="434.60" font-size="11.6" text-anchor="middle" fill="#111" >100</text>
<rect x="480.10" y="352.22" width="13.50" height="70.68" fill="#fac794" stroke="#c99a70" stroke-width="0.7"/>
<rect x="493.60" y="415.45" width="13.50" height="7.45" fill="#9ed69c" stroke="#6a9e6c" stroke-width="0.7"/>
<text x="493.60" y="434.60" font-size="11.6" text-anchor="middle" fill="#111" >200</text>
<rect x="513.75" y="343.23" width="13.50" height="79.67" fill="#fac794" stroke="#c99a70" stroke-width="0.7"/>
<rect x="527.25" y="375.97" width="13.50" height="46.93" fill="#9ed69c" stroke="#6a9e6c" stroke-width="0.7"/>
<text x="527.25" y="434.60" font-size="11.6" text-anchor="middle" fill="#111" >300</text>
<path d="M409.50 328.40L409.50 422.90L545.10 422.90" stroke="#4a4a4a" stroke-width="1.25" fill="none"/>
<text x="476.50" y="447.00" font-size="11.6" text-anchor="middle" fill="#111" >Cycles</text>
<text x="0" y="0" font-size="11.6" fill="#111" transform="translate(380.70,399.50) rotate(-90)">R<tspan font-size="8" dy="2.5">ct</tspan><tspan dy="-2.5"> (Ohm)</tspan></text>
<text x="372.00" y="341.50" font-size="13.5" text-anchor="start" fill="#111" >(g)</text>
<rect x="414.80" y="324.2" width="21.6" height="10.2" fill="#fac794" stroke="#c99a70" stroke-width="0.7"/>
<text x="438.80" y="332.60" font-size="9.7" text-anchor="start" fill="#111" >0% SOC</text>
<rect x="479.10" y="324.2" width="20.3" height="10.2" fill="#9ed69c" stroke="#6a9e6c" stroke-width="0.7"/>
<text x="502.80" y="332.60" font-size="9.7" text-anchor="start" fill="#111" >100% SOC</text>
</svg></body></html>
